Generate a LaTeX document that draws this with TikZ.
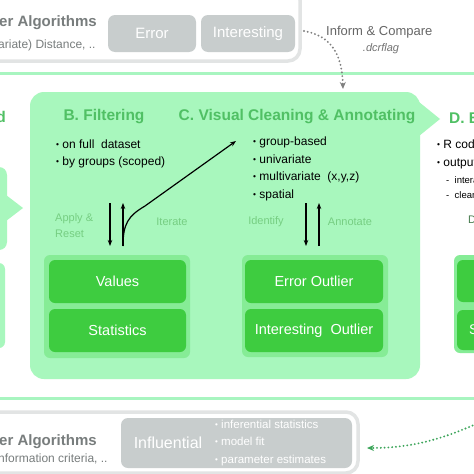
\documentclass[tikz,border=0pt]{standalone}
\usepackage{fontspec}
\setmainfont{Liberation Sans}
\usetikzlibrary{calc,arrows.meta,positioning}

\definecolor{panelgreen}{RGB}{168,247,189}
\definecolor{boxgreen}{RGB}{134,236,150}
\definecolor{darkgreen}{RGB}{62,204,64}
\definecolor{titlegreen}{RGB}{80,192,100}
\definecolor{labelgreen}{RGB}{118,206,130}
\definecolor{linegreen}{RGB}{168,245,192}
\definecolor{graybox}{RGB}{200,205,205}
\definecolor{grayborder}{RGB}{226,228,228}
\definecolor{graytext}{RGB}{120,125,125}
\definecolor{dotgreen}{RGB}{60,165,90}

\newcommand{\bul}{\raisebox{0.2ex}{\scalebox{0.7}{•}}\ }

\begin{document}
\begin{tikzpicture}[x=1pt, y=-1pt,
    greenbox/.style={fill=darkgreen, rounded corners=6pt, text=white, font=\fontsize{14.5}{16}\selectfont},
    graybtn/.style={fill=graybox, rounded corners=7pt, text=white, font=\fontsize{15}{17}\selectfont},
    title/.style={text=titlegreen, font=\bfseries\fontsize{15.5}{17}\selectfont},
    lbl/.style={text=labelgreen, font=\fontsize{11}{16}\selectfont},
    bullets/.style={align=left, anchor=west, inner sep=0pt, font=\fontsize{12}{17.5}\selectfont},
    flow/.style={line width=1.2pt, -{Stealth[length=6pt,width=4.5pt]}},
    dots/.style={line width=2.1pt, line cap=round, dash pattern=on 0pt off 3.8pt}]
    \clip (0,0) rectangle (474,474);
    \fill[white] (0,0) rectangle (474,474);
    \coordinate (A1) at (110,203);
    \coordinate (A2) at (110,246);
    \coordinate (R1) at (123,246);
    \coordinate (R2) at (123,203);
    \coordinate (It) at (236,141);
    \coordinate (I1) at (306,203);
    \coordinate (I2) at (306,246);
    \coordinate (N1) at (319,246);
    \coordinate (N2) at (319,203);
    \coordinate (Inf) at (304,31);
    \coordinate (Cmp) at (343,89);
    \coordinate (Fb) at (476,424);
    \coordinate (Ifl) at (367,448);
    \draw[linegreen, line width=3pt] (0,73) -- (474,73);
    \draw[linegreen, line width=3pt] (0,398) -- (474,398);
    \draw[grayborder, line width=3.5pt, fill=white, rounded corners=12pt] (-20,-12) rectangle (300,61);
    \draw[grayborder, line width=3.5pt, fill=white, rounded corners=12pt] (-20,412) rectangle (358,473);
    \node[graybtn, minimum width=88pt, minimum height=37pt] (err) at (152,33.5) {Error};
    \node[graybtn, minimum width=94pt, minimum height=37pt] (intr) at (248,33.5) {Interesting};
    \node[anchor=west, inner sep=0pt, text=graytext, font=\bfseries\fontsize{15}{17}\selectfont] at (-1,23) {er Algorithms};
    \node[anchor=west, inner sep=0pt, text=graytext, font=\fontsize{12}{14}\selectfont] at (-2,45) {ariate) Distance, ..};
    \node[anchor=west, inner sep=0pt, text=black!60, font=\fontsize{13}{15}\selectfont] at (326,32) {Inform \& Compare};
    \node[inner sep=0pt, text=black!55, font=\itshape\fontsize{11}{13}\selectfont] at (381,49) {.dcrflag};
    \node[graybtn, minimum width=231pt, minimum height=50pt] (infl) at (236.5,443) {};
    \node[text=white, font=\fontsize{16}{18}\selectfont] at (168,443) {Influential};
    \node[bullets, text=white, font=\fontsize{11.5}{17.5}\selectfont] at (215,443) {\bul inferential statistics\\ \bul model fit\\ \bul parameter estimates};
    \node[anchor=west, inner sep=0pt, text=graytext, font=\bfseries\fontsize{15}{17}\selectfont] at (-1,442) {er Algorithms};
    \node[anchor=west, inner sep=0pt, text=graytext, font=\fontsize{12}{14}\selectfont] at (-2,459) {nformation criteria, ..};
    \fill[panelgreen, rounded corners=8pt] (-20,167) rectangle (7,250);
    \fill[panelgreen] (6,195) -- (23,208) -- (6,221) -- cycle;
    \fill[panelgreen, rounded corners=6pt] (-20,263) rectangle (5,348);
    \node[title, anchor=east, inner sep=0pt] at (6,117) {d};
    \fill[panelgreen, rounded corners=14pt] (30,92) rectangle (420,379);
    \fill[panelgreen] (419,102) -- (440,119) -- (419,136) -- cycle;
    \fill[boxgreen, rounded corners=6pt] (44,255) rectangle (190,358);
    \fill[boxgreen, rounded corners=6pt] (242,255) rectangle (388,357);
    \fill[boxgreen, rounded corners=6pt] (454,255) rectangle (500,353);
    \node[greenbox, minimum width=137pt, minimum height=43pt] (val) at (117.5,281.5) {Values};
    \node[greenbox, minimum width=137pt, minimum height=43pt] (stat) at (117.5,330.5) {Statistics};
    \node[greenbox, minimum width=138pt, minimum height=43pt] (eo) at (314,281.5) {Error Outlier};
    \node[greenbox, minimum width=138pt, minimum height=43pt] (io) at (314,330.5) {Interesting \ Outlier};
    \node[greenbox, minimum width=50pt, minimum height=42pt] (d1) at (482,281) {};
    \node[greenbox, minimum width=50pt, minimum height=40pt] (d2) at (482,330) {};
    \node[anchor=west, inner sep=0pt, text=white, font=\fontsize{14}{16}\selectfont] at (469,330) {S};
    \node[title] (tB) at (104,117) {B. Filtering};
    \node[title] (tC) at (297,117) {C. Visual Cleaning \& Annotating};
    \node[title, anchor=west, inner sep=0pt] (tD) at (449,118) {D. B};
    \node[bullets] at (56,154) {\bul on full \ dataset\\ \bul by groups (scoped)};
    \node[bullets] at (253,169) {\bul group-based\\ \bul univariate\\ \bul multivariate \ (x,y,z)\\ \bul spatial};
    \node[bullets] at (437,154.5) {\bul R code\\ \bul output};
    \node[align=left, anchor=west, inner sep=0pt, font=\fontsize{9.5}{15.5}\selectfont] at (446,187.5) {-\ \ interactive\\ -\ \ cleaned};
    \node[lbl, anchor=west, inner sep=0pt, text=black!40!labelgreen] at (468,220) {D};
    \node[lbl, align=left, anchor=west, inner sep=0pt] at (55,226) {Apply \&\\ Reset};
    \node[lbl] at (172,222) {Iterate};
    \node[lbl] at (266,222) {Identify};
    \node[lbl] at (350,222) {Annotate};
    \draw[flow] (A1) -- (A2);
    \draw[flow] (R1) -- (R2);
    \draw[flow] (R1) .. controls (123,224) and (128,216) .. (145,206) -- (It);
    \draw[flow] (I1) -- (I2);
    \draw[flow] (N1) -- (N2);
    \draw[dots, black!50, -{Stealth[length=7pt,width=6pt]}] (Inf) .. controls (332,36) and (342,55) .. (Cmp);
    \draw[dots, dotgreen, -{Stealth[length=7pt,width=6pt]}] (Fb) .. controls (440,440) and (410,448) .. (Ifl);
\end{tikzpicture}
\end{document}
